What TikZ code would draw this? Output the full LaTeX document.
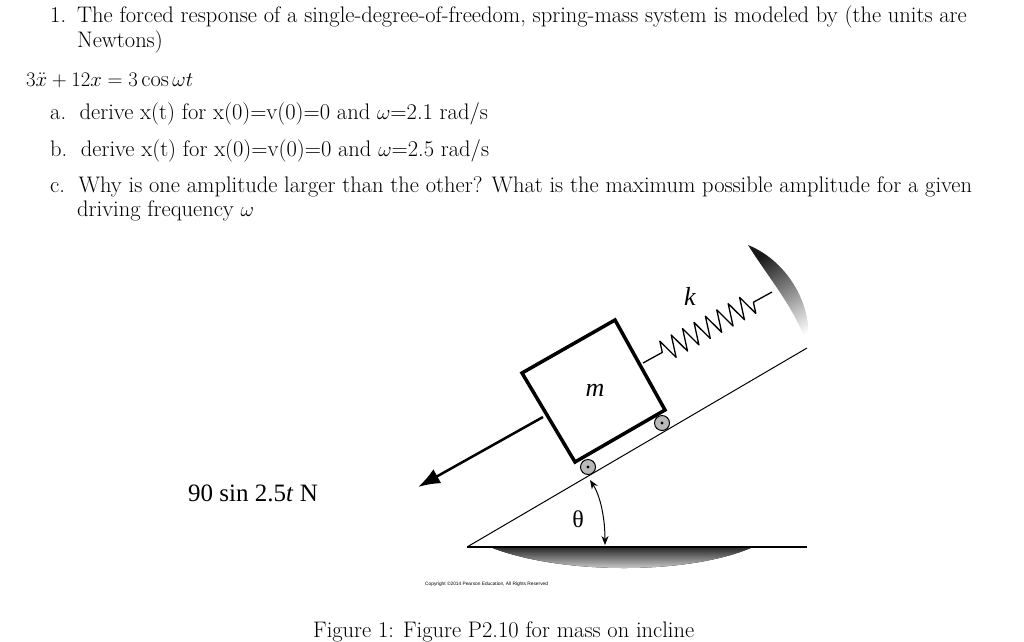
\documentclass[tikz,border=0pt]{standalone}
\usepackage{fontspec}
\newfontfamily\timesf{Liberation Serif}
\newfontfamily\sansf{Liberation Sans}
\usetikzlibrary{arrows.meta,decorations.pathmorphing,shadings}
\begin{document}
\begin{tikzpicture}[x=1pt,y=-1pt,
  txt/.style={anchor=base west,inner sep=0pt,font=\fontsize{22.5}{26}\selectfont},
  wheel/.style={circle,draw=black,line width=1pt,fill=gray!55,minimum size=15pt,inner sep=0pt}]
\useasboundingbox (0,0) rectangle (1024,641);
% text
\node[txt] (n1) at (50,22) {1.};
\node[txt] (l1) at (77,22) {The forced response of a single-degree-of-freedom, spring-mass system is modeled by (the units are};
\node[txt] (l2) at (77,47) {Newtons)};
\node[txt] (eq) at (26,86) {$3\ddot{x}+12x=3\cos\omega t$};
\node[txt] (a) at (50,119) {a.\ \ derive x(t) for x(0)=v(0)=0 and $\omega$=2.1 rad/s};
\node[txt] (b) at (50,156) {b.\ \ derive x(t) for x(0)=v(0)=0 and $\omega$=2.5 rad/s};
\node[txt] (c) at (50,192) {c.\ \ Why is one amplitude larger than the other? What is the maximum possible amplitude for a given};
\node[txt] (c2) at (77,216) {driving frequency $\omega$};
\node[txt] (cap) at (313,637) {Figure 1: Figure P2.10 for mass on incline};
\node[anchor=base west,inner sep=0pt,font=\timesf\fontsize{25}{28}\selectfont] (f) at (188,501) {90 sin 2.5\textit{t} N};
\node[anchor=base west,inner sep=0pt,font=\sansf\fontsize{4.8}{5}\selectfont] (cp) at (425,585) {Copyright ©2014 Pearson Education, All Rights Reserved};
% figure
\coordinate (A) at (467,547);
\coordinate (G) at (807,547);
\coordinate (T) at (807,348);
\coordinate (W) at (748,245);
\fill[top color=black!85,bottom color=white] (490,547) .. controls (560,575) and (690,575) .. (753,547) -- cycle;
\draw[line width=1.1pt] (A) -- (G);
\draw[line width=1pt] (A) -- (T);
\shade[left color=black!90, right color=white,shading angle=30] (W) .. controls (790,262) and (815,310) .. (T) .. controls (800,315) and (770,280) .. (W) -- cycle;
% spring
\draw[line width=1.3pt,line join=round,decorate,decoration={zigzag,amplitude=11pt,segment length=13pt,pre length=22pt,post length=20pt}] (643,363) -- (772,292);
% block
\draw[line width=3.5pt,line join=miter] (522,373) -- (615,320) -- (665,410) -- (575,462) -- cycle;
\node[wheel] (w1) at (588,467) {};
\node[wheel] (w2) at (662,423) {};
\fill (w1) circle (1.6pt); \fill (w2) circle (1.6pt);
\node[font=\timesf\itshape\fontsize{26}{30}\selectfont] (m) at (595,390) {m};
\node[font=\timesf\itshape\fontsize{26}{30}\selectfont] (k) at (690,296) {k};
% force
\draw[line width=2.5pt,-{Latex[length=22pt,width=16pt]}] (543,417) -- (418,487);
% theta
\draw[line width=1pt,{Stealth[length=9pt,width=7pt]}-{Stealth[length=9pt,width=7pt]}] (590,480) .. controls (601,497) and (605,520) .. (605,545);
\node[font=\timesf\fontsize{24}{28}\selectfont] (th) at (578,519) {θ};
\end{tikzpicture}
\end{document}
